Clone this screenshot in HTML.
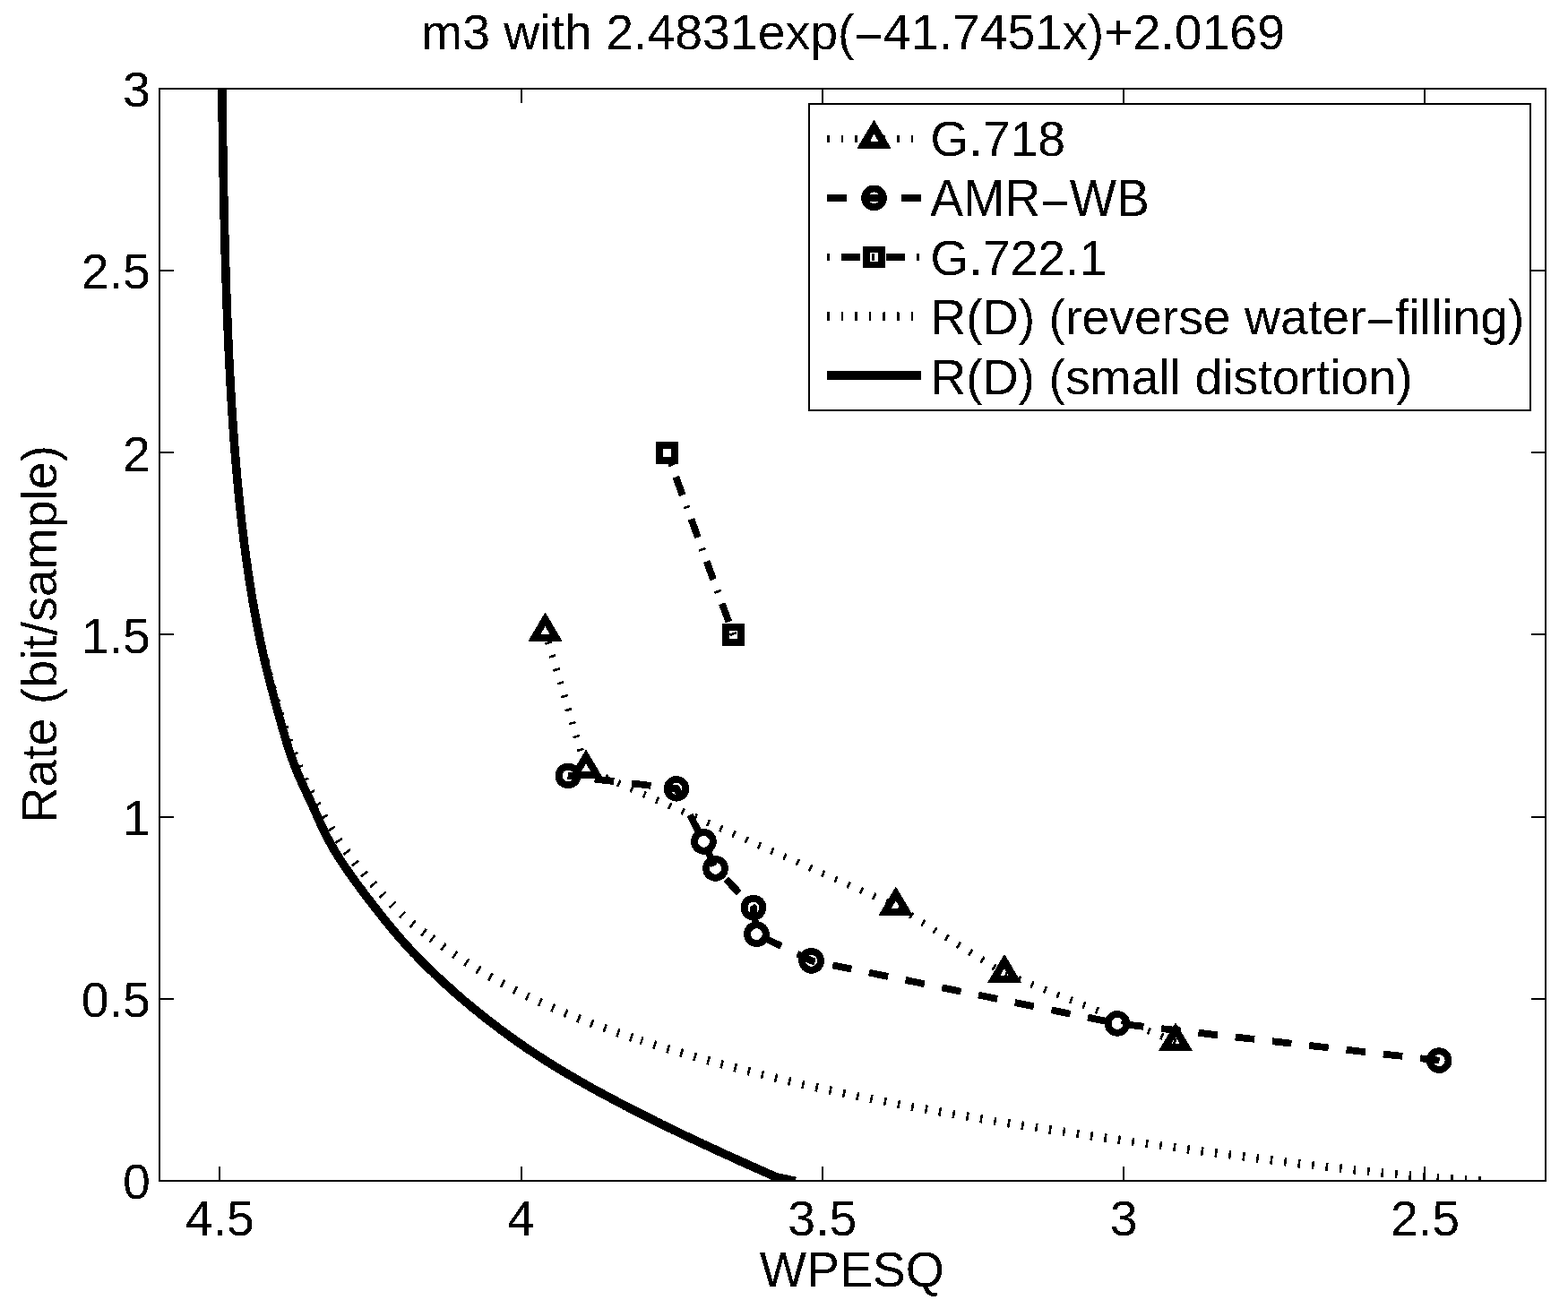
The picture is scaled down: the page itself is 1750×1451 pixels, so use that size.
<!DOCTYPE html>
<html lang="en"><head><meta charset="utf-8"><title>m3 with 2.4831exp(−41.7451x)+2.0169</title>
<style>html,body{margin:0;padding:0;background:#fff}body{width:1750px;height:1451px;overflow:hidden}svg{display:block}text{font-family:"Liberation Sans",sans-serif;font-size:55.4px;fill:#000}</style>
</head><body>
<svg width="1750" height="1451" viewBox="0 0 1750 1451">
<rect width="1750" height="1451" fill="#fff"/>
<defs><filter id="bin" filterUnits="userSpaceOnUse" x="0" y="0" width="1750" height="1451" color-interpolation-filters="sRGB"><feComponentTransfer><feFuncA type="discrete" tableValues="0 1 1 1 1 1 1 1 1 1 1 1 1 1 1 1 1 1 1 1"/></feComponentTransfer></filter></defs>
<defs><filter id="tb" filterUnits="userSpaceOnUse" x="0" y="0" width="1750" height="1451" color-interpolation-filters="sRGB"><feComponentTransfer><feFuncA type="discrete" tableValues="0 1"/></feComponentTransfer></filter></defs>
<defs><clipPath id="ax"><rect x="178" y="99" width="1547" height="1220"/></clipPath></defs>
<g clip-path="url(#ax)"><g filter="url(#bin)" fill="none" stroke="#000">
<path d="M1312 1162.67 L1121 1086.57 L999.8 1010.97 L654 858.07 L608.5 704.97" stroke-width="6.94" stroke-dasharray="1.731 13.847"/>
<path d="M1606.1 1183.6 L1247 1142.4 L905.6 1072.4 L844.4 1042.6 L840.9 1013.1 L798.5 969.4" stroke-width="6.94" stroke-dasharray="20.771 20.771"/>
<path d="M798.5 969.4 L785.4 939.4 L755 880.3 L634.05 865.9" stroke-width="6.94" stroke-dasharray="20.771 20.771" stroke-dashoffset="37.79"/>
<path d="M818.5 708.3 L744.5 505.5" stroke-width="6.94" stroke-dasharray="1.731 13.847 20.771 13.847"/>
<path d="M247.38 60 L247.41 62.52 L247.43 65.03 L247.46 67.55 L247.49 70.07 L247.51 72.58 L247.54 75.1 L247.57 77.61 L247.59 80.13 L247.62 82.65 L247.65 85.16 L247.68 87.68 L247.7 90.2 L247.73 92.71 L247.76 95.23 L247.79 97.74 L247.82 100.26 L247.85 102.78 L247.88 105.29 L247.91 107.81 L247.94 110.33 L247.97 112.84 L248.01 115.36 L248.04 117.88 L248.07 120.39 L248.11 122.91 L248.14 125.42 L248.17 127.94 L248.21 130.46 L248.24 132.97 L248.28 135.49 L248.32 138 L248.35 140.52 L248.39 143.04 L248.43 145.55 L248.46 148.07 L248.5 150.59 L248.54 153.1 L248.58 155.62 L248.62 158.13 L248.66 160.65 L248.7 163.17 L248.74 165.68 L248.78 168.2 L248.82 170.72 L248.86 173.23 L248.91 175.75 L248.95 178.26 L248.99 180.78 L249.04 183.3 L249.08 185.81 L249.13 188.33 L249.17 190.84 L249.22 193.36 L249.27 195.88 L249.32 198.39 L249.36 200.91 L249.41 203.42 L249.46 205.94 L249.51 208.46 L249.56 210.97 L249.61 213.49 L249.66 216 L249.72 218.52 L249.77 221.04 L249.82 223.55 L249.88 226.07 L249.93 228.58 L249.99 231.1 L250.04 233.62 L250.1 236.13 L250.16 238.65 L250.21 241.16 L250.27 243.68 L250.33 246.19 L250.39 248.71 L250.45 251.23 L250.51 253.74 L250.58 256.26 L250.64 258.77 L250.7 261.29 L250.77 263.8 L250.83 266.32 L250.9 268.84 L250.97 271.35 L251.03 273.87 L251.1 276.38 L251.17 278.9 L251.24 281.41 L251.31 283.93 L251.38 286.44 L251.46 288.96 L251.53 291.47 L251.6 293.99 L251.68 296.51 L251.76 299.02 L251.83 301.54 L251.91 304.05 L251.99 306.57 L252.07 309.08 L252.15 311.6 L252.23 314.11 L252.31 316.63 L252.4 319.14 L252.48 321.66 L252.57 324.17 L252.65 326.69 L252.74 329.2 L252.83 331.72 L252.92 334.23 L253.01 336.75 L253.1 339.26 L253.19 341.78 L253.29 344.29 L253.38 346.81 L253.48 349.32 L253.58 351.84 L253.68 354.35 L253.77 356.86 L253.88 359.38 L253.98 361.89 L254.08 364.41 L254.18 366.92 L254.29 369.44 L254.4 371.95 L254.51 374.46 L254.61 376.98 L254.73 379.49 L254.84 382.01 L254.95 384.52 L255.07 387.03 L255.18 389.55 L255.3 392.06 L255.42 394.58 L255.54 397.09 L255.66 399.6 L255.78 402.12 L255.91 404.63 L256.03 407.14 L256.16 409.66 L256.29 412.17 L256.42 414.68 L256.55 417.2 L256.68 419.71 L256.82 422.22 L256.95 424.73 L257.09 427.25 L257.23 429.76 L257.37 432.27 L257.52 434.78 L257.66 437.3 L257.81 439.81 L257.96 442.32 L258.11 444.83 L258.26 447.35 L258.41 449.86 L258.57 452.37 L258.72 454.88 L258.88 457.39 L259.04 459.9 L259.21 462.41 L259.37 464.93 L259.54 467.44 L259.71 469.95 L259.88 472.46 L260.05 474.97 L260.22 477.48 L260.4 479.99 L260.58 482.5 L260.76 485.01 L260.94 487.52 L261.13 490.03 L261.31 492.54 L261.5 495.05 L261.69 497.56 L261.89 500.07 L262.08 502.58 L262.28 505.08 L262.48 507.59 L262.68 510.1 L262.89 512.61 L263.1 515.12 L263.31 517.62 L263.52 520.13 L263.73 522.64 L263.95 525.15 L264.17 527.65 L264.39 530.16 L264.62 532.67 L264.85 535.17 L265.08 537.68 L265.31 540.18 L265.54 542.69 L265.78 545.19 L266.02 547.7 L266.27 550.2 L266.51 552.71 L266.76 555.21 L267.01 557.72 L267.27 560.22 L267.53 562.72 L267.79 565.23 L268.05 567.73 L268.32 570.23 L268.59 572.73 L268.86 575.24 L269.14 577.74 L269.42 580.24 L269.7 582.74 L269.98 585.24 L270.27 587.74 L270.57 590.24 L270.86 592.74 L271.17 595.24 L271.47 597.73 L271.78 600.23 L272.09 602.73 L272.4 605.23 L272.72 607.72 L273.05 610.22 L273.37 612.71 L273.7 615.21 L274.04 617.7 L274.38 620.2 L274.72 622.69 L275.07 625.18 L275.42 627.67 L275.77 630.16 L276.13 632.65 L276.5 635.14 L276.87 637.63 L277.24 640.12 L277.62 642.61 L278 645.1 L278.39 647.59 L278.78 650.07 L279.17 652.56 L279.57 655.04 L279.98 657.53 L280.39 660.01 L280.81 662.49 L281.23 664.97 L281.65 667.45 L282.08 669.93 L282.52 672.41 L282.96 674.89 L283.41 677.37 L283.86 679.84 L284.31 682.32 L284.78 684.79 L285.25 687.26 L285.72 689.73 L286.2 692.2 L286.68 694.67 L287.18 697.14 L287.67 699.61 L288.18 702.07 L288.69 704.54 L289.2 707 L289.72 709.46 L290.25 711.93 L290.78 714.38 L291.32 716.84 L291.86 719.3 L292.41 721.76 L292.96 724.21 L293.52 726.67 L294.09 729.12 L294.66 731.57 L295.23 734.02 L295.81 736.47 L296.39 738.92 L296.98 741.36 L297.58 743.81 L298.18 746.25 L298.78 748.7 L299.39 751.14 L300.01 753.58 L300.64 756.01 L301.27 758.45 L301.91 760.88 L302.56 763.32 L303.21 765.75 L303.88 768.17 L304.55 770.6 L305.24 773.02 L305.93 775.44 L306.63 777.85 L307.34 780.27 L308.05 782.68 L308.77 785.09 L309.5 787.5 L310.24 789.91 L310.97 792.32 L311.72 794.72 L312.46 797.12 L313.22 799.52 L313.98 801.92 L314.74 804.32 L315.52 806.71 L316.3 809.11 L317.09 811.5 L317.89 813.88 L318.69 816.27 L319.51 818.65 L320.33 821.03 L321.17 823.4 L322.01 825.77 L322.86 828.14 L323.72 830.51 L324.59 832.87 L325.46 835.23 L326.35 837.58 L327.25 839.93 L328.16 842.28 L329.08 844.62 L330.01 846.96 L330.94 849.3 L331.89 851.63 L332.85 853.95 L333.82 856.27 L334.81 858.59 L335.8 860.9 L336.8 863.21 L337.82 865.51 L338.85 867.81 L339.88 870.1 L340.93 872.39 L342 874.67 L343.07 876.95 L344.15 879.22 L345.25 881.49 L346.36 883.75 L347.48 886 L348.61 888.25 L349.76 890.49 L350.91 892.72 L352.08 894.95 L353.26 897.17 L354.45 899.39 L355.66 901.6 L356.88 903.8 L358.11 906 L359.35 908.19 L360.6 910.37 L361.87 912.55 L363.15 914.71 L364.44 916.87 L365.74 919.03 L367.05 921.17 L368.38 923.31 L369.72 925.44 L371.07 927.57 L372.43 929.68 L373.81 931.79 L375.19 933.89 L376.59 935.99 L378 938.07 L379.42 940.15 L380.85 942.22 L382.3 944.28 L383.75 946.33 L385.22 948.38 L386.7 950.41 L388.19 952.44 L389.69 954.46 L391.21 956.47 L392.73 958.47 L394.27 960.46 L395.81 962.45 L397.37 964.43 L398.93 966.4 L400.51 968.36 L402.09 970.32 L403.69 972.27 L405.29 974.21 L406.91 976.14 L408.53 978.06 L410.17 979.98 L411.81 981.88 L413.47 983.77 L415.14 985.65 L416.83 987.52 L418.52 989.38 L420.23 991.23 L421.95 993.06 L423.68 994.89 L425.42 996.7 L427.17 998.52 L428.92 1000.32 L430.68 1002.12 L432.43 1003.93 L434.19 1005.73 L435.94 1007.54 L437.69 1009.35 L439.44 1011.17 L441.18 1012.99 L442.92 1014.8 L444.67 1016.61 L446.43 1018.41 L448.21 1020.19 L450.02 1021.93 L451.85 1023.65 L453.71 1025.34 L455.6 1027.01 L457.5 1028.64 L459.43 1030.26 L461.38 1031.85 L463.35 1033.42 L465.33 1034.98 L467.33 1036.52 L469.33 1038.04 L471.35 1039.56 L473.37 1041.06 L475.4 1042.56 L477.44 1044.05 L479.47 1045.54 L481.51 1047.02 L481.89 1047.3" stroke-width="8.68" stroke-dasharray="1.731 13.847" stroke-dashoffset="5.7"/>
<path d="M481.9 1047.31 L483.55 1048.51 L485.59 1049.99 L487.62 1051.47 L489.66 1052.95 L491.71 1054.42 L493.75 1055.88 L495.8 1057.34 L497.85 1058.8 L499.91 1060.25 L501.97 1061.69 L504.03 1063.12 L506.1 1064.55 L508.18 1065.97 L510.27 1067.37 L512.36 1068.77 L514.46 1070.16 L516.56 1071.54 L518.67 1072.9 L520.79 1074.26 L522.92 1075.61 L525.05 1076.95 L527.19 1078.28 L529.33 1079.6 L531.48 1080.91 L533.63 1082.22 L535.79 1083.51 L537.95 1084.8 L540.12 1086.08 L542.29 1087.35 L544.47 1088.62 L546.65 1089.87 L548.84 1091.12 L551.03 1092.36 L553.22 1093.59 L555.42 1094.81 L557.63 1096.03 L559.84 1097.23 L562.05 1098.43 L564.27 1099.62 L566.49 1100.8 L568.72 1101.97 L570.95 1103.14 L573.18 1104.29 L575.42 1105.44 L577.67 1106.58 L579.91 1107.71 L582.17 1108.83 L584.42 1109.95 L586.68 1111.05 L588.95 1112.15 L591.22 1113.24 L593.49 1114.32 L595.77 1115.4 L598.04 1116.46 L600.33 1117.52 L602.61 1118.57 L604.91 1119.62 L607.2 1120.65 L609.5 1121.68 L611.8 1122.7 L614.1 1123.71 L616.41 1124.72 L618.72 1125.72 L621.03 1126.71 L623.35 1127.69 L625.67 1128.67 L627.99 1129.64 L630.32 1130.6 L632.64 1131.56 L634.97 1132.5 L637.31 1133.45 L639.64 1134.38 L641.98 1135.31 L644.33 1136.23 L646.67 1137.15 L649.02 1138.05 L651.37 1138.96 L653.72 1139.85 L656.07 1140.74 L658.43 1141.63 L660.79 1142.51 L663.15 1143.38 L665.51 1144.25 L667.87 1145.11 L670.24 1145.96 L672.61 1146.81 L674.98 1147.66 L677.35 1148.5 L679.73 1149.33 L682.1 1150.16 L684.48 1150.99 L686.86 1151.81 L689.24 1152.62 L691.62 1153.43 L694 1154.24 L696.39 1155.04 L698.78 1155.84 L701.16 1156.63 L703.55 1157.42 L705.95 1158.21 L708.34 1158.99 L710.73 1159.77 L713.12 1160.54 L715.52 1161.31 L715.63 1161.35" stroke-width="8.68" stroke-dasharray="1.731 13.847" stroke-dashoffset="0.31"/>
<path d="M715.64 1161.35 L717.92 1162.08 L720.31 1162.85 L722.71 1163.61 L725.11 1164.37 L727.51 1165.12 L729.91 1165.87 L732.32 1166.62 L734.72 1167.37 L737.12 1168.11 L739.53 1168.85 L741.94 1169.59 L744.34 1170.32 L746.75 1171.05 L749.16 1171.78 L751.57 1172.5 L753.98 1173.22 L756.39 1173.94 L758.81 1174.65 L761.22 1175.36 L763.64 1176.07 L766.05 1176.78 L768.47 1177.48 L770.89 1178.18 L773.3 1178.87 L775.72 1179.57 L778.14 1180.26 L780.56 1180.95 L782.99 1181.63 L785.41 1182.31 L787.83 1182.99 L790.26 1183.66 L792.68 1184.34 L795.11 1185.01 L797.53 1185.67 L799.96 1186.34 L802.39 1187 L804.82 1187.66 L807.25 1188.31 L809.68 1188.96 L812.11 1189.61 L814.54 1190.26 L816.97 1190.9 L819.41 1191.54 L821.84 1192.18 L824.28 1192.82 L826.71 1193.45 L829.15 1194.08 L831.59 1194.71 L834.02 1195.33 L836.46 1195.95 L838.9 1196.57 L841.34 1197.19 L843.78 1197.8 L846.22 1198.42 L848.66 1199.02 L851.11 1199.63 L853.55 1200.23 L855.99 1200.83 L858.44 1201.43 L860.88 1202.03 L863.33 1202.62 L865.77 1203.21 L868.22 1203.8 L870.67 1204.38 L873.12 1204.96 L875.57 1205.54 L878.02 1206.12 L880.47 1206.7 L882.92 1207.27 L885.37 1207.84 L887.82 1208.41 L890.27 1208.97 L892.72 1209.54 L895.18 1210.1 L897.63 1210.65 L900.08 1211.21 L902.54 1211.76 L905 1212.31 L907.45 1212.86 L909.91 1213.41 L912.36 1213.95 L914.82 1214.49 L917.28 1215.03 L919.74 1215.57 L922.2 1216.11 L924.66 1216.64 L927.12 1217.17 L929.58 1217.7 L932.04 1218.22 L934.5 1218.75 L936.96 1219.27 L939.42 1219.79 L941.89 1220.31 L944.35 1220.82 L946.81 1221.34 L949.28 1221.85 L951.74 1222.36 L954.21 1222.86 L956.67 1223.37 L959.14 1223.87 L961.6 1224.37 L964.07 1224.87 L966.54 1225.37 L969 1225.86 L971.47 1226.36 L973.94 1226.85 L976.41 1227.34 L978.88 1227.82 L981.35 1228.31 L983.82 1228.79 L986.29 1229.28 L988.76 1229.76 L991.23 1230.23 L993.7 1230.71 L996.17 1231.18 L998.64 1231.66 L1001.11 1232.13 L1003.58 1232.6 L1006.06 1233.06 L1008.53 1233.53 L1011 1233.99 L1013.48 1234.46 L1015.95 1234.92 L1018.43 1235.38 L1020.9 1235.83 L1023.38 1236.29 L1025.85 1236.74 L1028.33 1237.2 L1030.8 1237.65 L1033.28 1238.1 L1035.75 1238.54 L1038.23 1238.99 L1040.71 1239.43 L1043.18 1239.88 L1045.66 1240.32 L1048.14 1240.76 L1050.62 1241.2 L1053.1 1241.63 L1055.57 1242.07 L1058.05 1242.5 L1060.53 1242.94 L1063.01 1243.37 L1065.49 1243.8 L1067.97 1244.22 L1070.45 1244.65 L1072.93 1245.08 L1075.41 1245.5 L1077.89 1245.92 L1080.37 1246.34 L1082.86 1246.76 L1085.34 1247.18 L1087.82 1247.6 L1090.3 1248.01 L1092.78 1248.43 L1095.26 1248.84 L1097.75 1249.25 L1100.23 1249.66 L1102.71 1250.07 L1105.2 1250.48 L1107.68 1250.88 L1110.16 1251.29 L1112.65 1251.69 L1115.13 1252.09 L1117.62 1252.5 L1120.1 1252.9 L1122.59 1253.29 L1125.07 1253.69 L1127.56 1254.09 L1130.04 1254.48 L1132.53 1254.88 L1135.01 1255.27 L1137.5 1255.66 L1139.98 1256.05 L1142.47 1256.44 L1144.96 1256.83 L1147.44 1257.22 L1149.93 1257.6 L1152.42 1257.99 L1154.9 1258.37 L1157.39 1258.75 L1159.88 1259.14 L1162.37 1259.52 L1164.85 1259.9 L1167.34 1260.27 L1169.83 1260.65 L1172.32 1261.03 L1174.81 1261.4 L1177.29 1261.78 L1179.78 1262.15 L1182.27 1262.52 L1184.76 1262.89 L1187.25 1263.26 L1189.74 1263.63 L1192.23 1264 L1194.72 1264.37 L1197.21 1264.74 L1199.7 1265.1 L1202.19 1265.47 L1204.68 1265.83 L1207.17 1266.2 L1209.66 1266.56 L1212.15 1266.92 L1214.64 1267.28 L1217.13 1267.64 L1219.62 1268 L1222.11 1268.36 L1224.6 1268.72 L1227.09 1269.07 L1229.58 1269.43 L1232.07 1269.78 L1234.57 1270.14 L1237.06 1270.49 L1239.55 1270.85 L1242.04 1271.2 L1244.53 1271.55 L1247.02 1271.9 L1249.52 1272.25 L1252.01 1272.6 L1254.5 1272.95 L1256.99 1273.3 L1259.48 1273.64 L1261.98 1273.99 L1264.47 1274.34 L1266.96 1274.68 L1269.45 1275.03 L1271.95 1275.37 L1274.44 1275.72 L1276.93 1276.06 L1279.43 1276.4 L1281.92 1276.75 L1284.41 1277.09 L1286.91 1277.43 L1289.4 1277.77 L1291.89 1278.11 L1294.39 1278.45 L1296.88 1278.79 L1299.37 1279.13 L1301.87 1279.47 L1304.36 1279.8 L1306.85 1280.14 L1309.35 1280.48 L1311.84 1280.82 L1314.34 1281.15 L1316.83 1281.49 L1319.32 1281.82 L1321.82 1282.16 L1324.31 1282.49 L1326.81 1282.83 L1329.3 1283.16 L1331.79 1283.5 L1334.29 1283.83 L1336.78 1284.16 L1339.28 1284.5 L1341.77 1284.83 L1344.27 1285.16 L1346.76 1285.49 L1349.25 1285.82 L1351.75 1286.16 L1354.24 1286.49 L1356.74 1286.82 L1359.23 1287.15 L1361.73 1287.48 L1364.22 1287.81 L1366.72 1288.14 L1369.21 1288.46 L1371.71 1288.79 L1374.2 1289.12 L1376.7 1289.45 L1379.19 1289.77 L1381.69 1290.1 L1384.18 1290.43 L1386.68 1290.75 L1389.17 1291.07 L1391.67 1291.4 L1394.17 1291.72 L1396.66 1292.04 L1399.16 1292.37 L1401.65 1292.69 L1404.15 1293.01 L1406.65 1293.33 L1409.14 1293.64 L1411.64 1293.96 L1414.13 1294.28 L1416.63 1294.59 L1419.13 1294.91 L1421.62 1295.22 L1424.12 1295.54 L1426.62 1295.85 L1429.12 1296.16 L1431.61 1296.47 L1434.11 1296.78 L1436.61 1297.09 L1439.1 1297.4 L1441.6 1297.71 L1444.1 1298.01 L1446.6 1298.32 L1449.1 1298.62 L1451.59 1298.92 L1454.09 1299.22 L1456.59 1299.52 L1459.09 1299.82 L1461.59 1300.12 L1464.09 1300.42 L1466.59 1300.71 L1469.09 1301.01 L1471.59 1301.3 L1474.09 1301.59 L1476.59 1301.88 L1479.08 1302.17 L1481.58 1302.46 L1484.09 1302.74 L1486.59 1303.03 L1489.09 1303.31 L1491.59 1303.59 L1494.09 1303.87 L1496.59 1304.15 L1499.09 1304.43 L1501.59 1304.7 L1504.09 1304.98 L1506.59 1305.25 L1509.1 1305.52 L1511.6 1305.79 L1514.1 1306.06 L1516.6 1306.33 L1519.1 1306.59 L1521.61 1306.86 L1524.11 1307.12 L1526.61 1307.38 L1529.12 1307.64 L1531.62 1307.89 L1534.12 1308.15 L1536.63 1308.4 L1539.13 1308.65 L1541.64 1308.9 L1544.14 1309.15 L1546.64 1309.39 L1549.15 1309.64 L1551.65 1309.88 L1554.16 1310.12 L1556.66 1310.35 L1559.17 1310.59 L1561.67 1310.82 L1564.18 1311.05 L1566.69 1311.28 L1569.19 1311.51 L1571.7 1311.74 L1574.21 1311.96 L1576.71 1312.18 L1579.22 1312.4 L1581.73 1312.62 L1584.23 1312.83 L1586.74 1313.04 L1589.25 1313.26 L1591.76 1313.46 L1594.26 1313.67 L1596.77 1313.88 L1599.28 1314.08 L1601.79 1314.28 L1604.3 1314.47 L1606.81 1314.67 L1609.32 1314.86 L1611.83 1315.05 L1614.34 1315.24 L1616.85 1315.42 L1619.36 1315.6 L1621.87 1315.78 L1624.38 1315.95 L1626.89 1316.12 L1629.4 1316.29 L1631.91 1316.46 L1634.42 1316.62 L1636.93 1316.78 L1639.44 1316.94 L1641.95 1317.1 L1644.47 1317.26 L1646.98 1317.42 L1649.49 1317.57 L1652 1317.73" stroke-width="8.68" stroke-dasharray="1.73 13.847" stroke-dashoffset="0.49"/>
<path d="M247.38 60 L247.41 63.07 L247.44 66.13 L247.48 69.2 L247.51 72.26 L247.54 75.33 L247.57 78.4 L247.61 81.46 L247.64 84.53 L247.68 87.6 L247.71 90.66 L247.74 93.73 L247.78 96.79 L247.82 99.86 L247.85 102.93 L247.89 105.99 L247.93 109.06 L247.97 112.12 L248 115.19 L248.04 118.26 L248.08 121.32 L248.13 124.39 L248.17 127.45 L248.21 130.52 L248.25 133.59 L248.3 136.65 L248.34 139.72 L248.38 142.78 L248.43 145.85 L248.48 148.92 L248.52 151.98 L248.57 155.05 L248.62 158.11 L248.67 161.18 L248.72 164.25 L248.77 167.31 L248.82 170.38 L248.87 173.44 L248.92 176.51 L248.97 179.58 L249.03 182.64 L249.08 185.71 L249.14 188.77 L249.19 191.84 L249.25 194.9 L249.31 197.97 L249.37 201.04 L249.42 204.1 L249.49 207.17 L249.55 210.23 L249.61 213.3 L249.67 216.36 L249.73 219.43 L249.8 222.5 L249.87 225.56 L249.93 228.63 L250 231.69 L250.07 234.76 L250.14 237.82 L250.21 240.89 L250.28 243.95 L250.35 247.02 L250.43 250.09 L250.5 253.15 L250.58 256.22 L250.65 259.28 L250.73 262.35 L250.81 265.41 L250.89 268.48 L250.97 271.54 L251.05 274.61 L251.14 277.67 L251.22 280.74 L251.31 283.8 L251.4 286.87 L251.49 289.93 L251.58 293 L251.67 296.06 L251.76 299.13 L251.85 302.19 L251.95 305.26 L252.04 308.32 L252.14 311.39 L252.24 314.45 L252.34 317.52 L252.45 320.58 L252.55 323.65 L252.65 326.71 L252.76 329.77 L252.87 332.84 L252.98 335.9 L253.09 338.97 L253.2 342.03 L253.32 345.1 L253.43 348.16 L253.55 351.22 L253.67 354.29 L253.79 357.35 L253.92 360.42 L254.04 363.48 L254.17 366.54 L254.3 369.61 L254.43 372.67 L254.56 375.73 L254.69 378.8 L254.83 381.86 L254.97 384.92 L255.11 387.99 L255.25 391.05 L255.4 394.11 L255.54 397.18 L255.69 400.24 L255.84 403.3 L255.99 406.36 L256.15 409.43 L256.3 412.49 L256.46 415.55 L256.62 418.61 L256.79 421.67 L256.95 424.74 L257.12 427.8 L257.29 430.86 L257.47 433.92 L257.64 436.98 L257.82 440.04 L258 443.1 L258.19 446.17 L258.37 449.23 L258.56 452.29 L258.75 455.35 L258.95 458.41 L259.14 461.47 L259.34 464.53 L259.55 467.59 L259.75 470.65 L259.96 473.71 L260.17 476.76 L260.39 479.82 L260.6 482.88 L260.83 485.94 L261.05 489 L261.28 492.06 L261.51 495.11 L261.74 498.17 L261.98 501.23 L262.22 504.29 L262.46 507.34 L262.71 510.4 L262.96 513.45 L263.21 516.51 L263.47 519.57 L263.73 522.62 L264 525.68 L264.26 528.73 L264.54 531.79 L264.81 534.84 L265.09 537.89 L265.38 540.95 L265.67 544 L265.96 547.05 L266.26 550.1 L266.56 553.15 L266.86 556.21 L267.17 559.26 L267.48 562.31 L267.8 565.36 L268.12 568.41 L268.45 571.45 L268.78 574.5 L269.12 577.55 L269.46 580.6 L269.81 583.65 L270.16 586.69 L270.51 589.74 L270.87 592.78 L271.24 595.83 L271.61 598.87 L271.98 601.91 L272.37 604.96 L272.75 608 L273.14 611.04 L273.54 614.08 L273.94 617.12 L274.35 620.16 L274.76 623.2 L275.18 626.24 L275.61 629.27 L276.04 632.31 L276.48 635.34 L276.92 638.38 L277.37 641.41 L277.83 644.44 L278.29 647.48 L278.76 650.51 L279.23 653.53 L279.71 656.56 L280.2 659.59 L280.7 662.62 L281.2 665.64 L281.7 668.67 L282.22 671.69 L282.74 674.71 L283.27 677.73 L283.81 680.75 L284.35 683.77 L284.9 686.78 L285.46 689.8 L286.02 692.81 L286.59 695.83 L287.17 698.84 L287.76 701.85 L288.35 704.86 L288.95 707.87 L289.56 710.87 L290.18 713.88 L290.81 716.88 L291.44 719.88 L292.09 722.88 L292.74 725.87 L293.4 728.87 L294.08 731.86 L294.76 734.85 L295.45 737.83 L296.15 740.82 L296.87 743.8 L297.59 746.78 L298.32 749.75 L299.06 752.73 L299.81 755.7 L300.57 758.67 L301.33 761.63 L302.1 764.6 L302.88 767.57 L303.67 770.53 L304.45 773.49 L305.25 776.45 L306.05 779.42 L306.85 782.38 L307.66 785.34 L308.47 788.3 L309.28 791.26 L310.09 794.22 L310.91 797.18 L311.73 800.14 L312.55 803.1 L313.37 806.06 L314.2 809.02 L315.04 811.98 L315.88 814.93 L316.73 817.88 L317.59 820.83 L318.47 823.77 L319.36 826.71 L320.26 829.65 L321.18 832.57 L322.12 835.5 L323.07 838.41 L324.05 841.32 L325.05 844.21 L326.07 847.1 L327.12 849.98 L328.19 852.85 L329.29 855.71 L330.41 858.55 L331.57 861.39 L332.76 864.21 L333.97 867.02 L335.2 869.83 L336.46 872.62 L337.73 875.41 L339.01 878.2 L340.31 880.98 L341.6 883.76 L342.91 886.54 L344.21 889.32 L345.51 892.1 L346.8 894.88 L348.08 897.67 L349.35 900.47 L350.61 903.27 L351.86 906.07 L353.11 908.88 L354.36 911.68 L355.62 914.48 L356.88 917.28 L358.16 920.07 L359.45 922.85 L360.75 925.62 L362.08 928.38 L363.43 931.13 L364.81 933.86 L366.22 936.57 L367.67 939.27 L369.14 941.95 L370.65 944.62 L372.18 947.27 L373.74 949.9 L375.33 952.52 L376.94 955.13 L378.57 957.72 L380.23 960.3 L381.91 962.87 L383.61 965.43 L385.33 967.97 L387.06 970.51 L388.81 973.03 L390.58 975.55 L392.36 978.06 L394.16 980.56 L395.96 983.05 L397.78 985.53 L399.6 988.01 L401.44 990.48 L403.28 992.95 L405.13 995.41 L406.98 997.87 L408.83 1000.32 L410.69 1002.77 L412.55 1005.21 L414.42 1007.65 L416.29 1010.09 L418.17 1012.52 L420.05 1014.94 L421.94 1017.36 L423.84 1019.77 L425.75 1022.17 L427.66 1024.57 L429.58 1026.96 L431.51 1029.34 L433.45 1031.71 L435.4 1034.08 L437.36 1036.43 L439.33 1038.78 L441.31 1041.12 L443.3 1043.44 L445.3 1045.76 L447.32 1048.07 L449.34 1050.36 L451.38 1052.65 L453.44 1054.92 L455.51 1057.18 L457.59 1059.43 L459.68 1061.67 L461.78 1063.9 L463.9 1066.12 L466.03 1068.33 L468.17 1070.52 L470.32 1072.71 L472.48 1074.89 L474.65 1077.06 L476.83 1079.21 L479.02 1081.36 L481.23 1083.5 L483.44 1085.62 L485.66 1087.74 L487.89 1089.85 L490.13 1091.95 L492.38 1094.04 L494.64 1096.12 L496.91 1098.2 L499.18 1100.26 L501.46 1102.31 L503.75 1104.36 L506.05 1106.4 L508.35 1108.43 L510.67 1110.45 L512.99 1112.46 L515.31 1114.46 L517.65 1116.46 L519.99 1118.44 L522.34 1120.42 L524.7 1122.39 L527.06 1124.34 L529.43 1126.29 L531.81 1128.23 L534.2 1130.17 L536.59 1132.09 L538.99 1134 L541.4 1135.91 L543.82 1137.8 L546.24 1139.69 L548.67 1141.56 L551.1 1143.43 L553.55 1145.29 L556 1147.14 L558.45 1148.98 L560.92 1150.81 L563.39 1152.63 L565.86 1154.44 L568.35 1156.24 L570.84 1158.04 L573.34 1159.82 L575.84 1161.59 L578.35 1163.36 L580.87 1165.11 L583.39 1166.86 L585.92 1168.59 L588.46 1170.32 L591 1172.04 L593.55 1173.74 L596.1 1175.44 L598.66 1177.13 L601.23 1178.8 L603.81 1180.47 L606.39 1182.13 L608.97 1183.78 L611.56 1185.42 L614.16 1187.05 L616.77 1188.67 L619.37 1190.28 L621.99 1191.88 L624.61 1193.48 L627.23 1195.06 L629.86 1196.64 L632.5 1198.21 L635.14 1199.77 L637.78 1201.33 L640.43 1202.87 L643.08 1204.41 L645.74 1205.94 L648.4 1207.47 L651.07 1208.99 L653.74 1210.5 L656.42 1212 L659.09 1213.49 L661.78 1214.98 L664.46 1216.47 L667.15 1217.94 L669.85 1219.41 L672.54 1220.88 L675.24 1222.34 L677.94 1223.79 L680.65 1225.24 L683.36 1226.68 L686.07 1228.12 L688.78 1229.55 L691.5 1230.98 L694.22 1232.4 L696.94 1233.81 L699.66 1235.23 L702.39 1236.63 L705.12 1238.04 L707.85 1239.44 L710.58 1240.83 L713.31 1242.22 L716.05 1243.61 L718.79 1244.99 L721.53 1246.37 L724.27 1247.74 L727.01 1249.11 L729.76 1250.48 L732.51 1251.84 L735.26 1253.2 L738.01 1254.56 L740.76 1255.91 L743.51 1257.25 L746.27 1258.6 L749.03 1259.94 L751.79 1261.27 L754.55 1262.61 L757.31 1263.94 L760.08 1265.26 L762.84 1266.59 L765.61 1267.91 L768.38 1269.22 L771.15 1270.54 L773.92 1271.85 L776.7 1273.15 L779.47 1274.46 L782.25 1275.76 L785.02 1277.06 L787.8 1278.35 L790.58 1279.65 L793.37 1280.94 L796.15 1282.22 L798.93 1283.51 L801.72 1284.79 L804.5 1286.07 L807.29 1287.35 L810.08 1288.62 L812.87 1289.89 L815.66 1291.16 L818.45 1292.43 L821.24 1293.7 L824.04 1294.96 L826.83 1296.23 L829.63 1297.49 L832.42 1298.75 L835.22 1300.01 L838.01 1301.27 L840.81 1302.52 L843.61 1303.78 L846.41 1305.03 L849.21 1306.29 L852 1307.54 L854.8 1308.79 L857.6 1310.04 L860.4 1311.3 L863.2 1312.55 L866 1313.8 L887.4 1318.3" stroke-width="8.68" stroke-linejoin="round"/>
<path d="M1312 1149.06 L1324.12 1169.47 L1299.88 1169.47 Z" stroke-width="7.26" stroke-miterlimit="10"/>
<path d="M1121 1072.96 L1133.12 1093.37 L1108.88 1093.37 Z" stroke-width="7.26" stroke-miterlimit="10"/>
<path d="M999.8 997.36 L1011.92 1017.77 L987.67 1017.77 Z" stroke-width="7.26" stroke-miterlimit="10"/>
<path d="M654 844.46 L666.12 864.87 L641.88 864.87 Z" stroke-width="7.26" stroke-miterlimit="10"/>
<path d="M608.5 691.36 L620.62 711.77 L596.38 711.77 Z" stroke-width="7.26" stroke-miterlimit="10"/>
<circle cx="1606.1" cy="1183.6" r="10.4" stroke-width="6.94"/>
<circle cx="1247" cy="1142.4" r="10.4" stroke-width="6.94"/>
<circle cx="905.6" cy="1072.4" r="10.4" stroke-width="6.94"/>
<circle cx="844.4" cy="1042.6" r="10.4" stroke-width="6.94"/>
<circle cx="840.9" cy="1013.1" r="10.4" stroke-width="6.94"/>
<circle cx="798.5" cy="969.4" r="10.4" stroke-width="6.94"/>
<circle cx="785.4" cy="939.4" r="10.4" stroke-width="6.94"/>
<circle cx="755" cy="880.3" r="10.4" stroke-width="6.94"/>
<circle cx="634.05" cy="865.9" r="10.4" stroke-width="6.94"/>
<rect x="810" y="699.8" width="17" height="17" stroke-width="6.94"/>
<rect x="736" y="497" width="17" height="17" stroke-width="6.94"/>
</g></g>
<g stroke="#000" stroke-width="2" fill="none" shape-rendering="crispEdges">
<rect x="178" y="99" width="1547" height="1219"/>
<line x1="245" y1="1318" x2="245" y2="1302"/>
<line x1="245" y1="99" x2="245" y2="115"/>
<line x1="582" y1="1318" x2="582" y2="1302"/>
<line x1="582" y1="99" x2="582" y2="115"/>
<line x1="918" y1="1318" x2="918" y2="1302"/>
<line x1="918" y1="99" x2="918" y2="115"/>
<line x1="1254" y1="1318" x2="1254" y2="1302"/>
<line x1="1254" y1="99" x2="1254" y2="115"/>
<line x1="1590" y1="1318" x2="1590" y2="1302"/>
<line x1="1590" y1="99" x2="1590" y2="115"/>
<line x1="178" y1="1115" x2="194" y2="1115"/>
<line x1="1725" y1="1115" x2="1709" y2="1115"/>
<line x1="178" y1="912" x2="194" y2="912"/>
<line x1="1725" y1="912" x2="1709" y2="912"/>
<line x1="178" y1="708" x2="194" y2="708"/>
<line x1="1725" y1="708" x2="1709" y2="708"/>
<line x1="178" y1="505" x2="194" y2="505"/>
<line x1="1725" y1="505" x2="1709" y2="505"/>
<line x1="178" y1="302" x2="194" y2="302"/>
<line x1="1725" y1="302" x2="1709" y2="302"/>
</g>
<g filter="url(#tb)">
<text transform="translate(952 55.3) scale(1 0.987)" text-anchor="middle" dy="0 0 0 0 0 0 0 0 0 0 0 0 0 0 0 0 0 0 3.36 -3.36">m3 with 2.4831exp(−41.7451x)+2.0169</text>
<text transform="translate(245.26 1379.3) scale(1 0.987)" text-anchor="middle">4.5</text>
<text transform="translate(581.57 1379.3) scale(1 0.987)" text-anchor="middle">4</text>
<text transform="translate(917.87 1379.3) scale(1 0.987)" text-anchor="middle">3.5</text>
<text transform="translate(1254.17 1379.3) scale(1 0.987)" text-anchor="middle">3</text>
<text transform="translate(1590.48 1379.3) scale(1 0.987)" text-anchor="middle">2.5</text>
<text transform="translate(167.7 1338.3) scale(1 0.987)" text-anchor="end">0</text>
<text transform="translate(167.7 1135.13) scale(1 0.987)" text-anchor="end">0.5</text>
<text transform="translate(167.7 931.97) scale(1 0.987)" text-anchor="end">1</text>
<text transform="translate(167.7 728.8) scale(1 0.987)" text-anchor="end">1.5</text>
<text transform="translate(167.7 525.63) scale(1 0.987)" text-anchor="end">2</text>
<text transform="translate(167.7 322.47) scale(1 0.987)" text-anchor="end">2.5</text>
<text transform="translate(167.7 119.3) scale(1 0.987)" text-anchor="end">3</text>
<text transform="translate(950.8 1436.1) scale(1 1.01)" text-anchor="middle">WPESQ</text>
<text transform="translate(63 707.6) rotate(-90) scale(1 1.005)" text-anchor="middle">Rate (bit/sample)</text>
</g>
<rect x="903" y="116" width="805" height="342" fill="#fff" stroke="#000" stroke-width="2" shape-rendering="crispEdges"/>
<g fill="none" stroke="#000" filter="url(#bin)">
<path d="M923.5 155 H1027.7" stroke-width="6.94" stroke-dasharray="1.731 13.847"/>
<path d="M975.5 141.49 L987.62 161.9 L963.38 161.9 Z" stroke-width="7.26" stroke-miterlimit="10"/>
<path d="M923.5 220.9 H1027.7" stroke-width="6.94" stroke-dasharray="20.771 20.771"/>
<circle cx="975.5" cy="220.9" r="10.4" stroke-width="6.94"/>
<path d="M923.5 287 H1027.7" stroke-width="6.94" stroke-dasharray="1.731 13.847 20.771 13.847"/>
<rect x="967" y="278.5" width="17" height="17" stroke-width="6.94"/>
<path d="M923.5 353.2 H1027.7" stroke-width="8.68" stroke-dasharray="1.731 13.847"/>
<path d="M923.5 419.2 H1027.7" stroke-width="8.68"/>
</g>
<g filter="url(#tb)">
<text transform="translate(1038.2 174.3) scale(1 0.99)">G.718</text>
<text transform="translate(1038.2 241) scale(1 1.02)" dy="0 0 0 4.74 -4.74">AMR−WB</text>
<text transform="translate(1038.2 307.1) scale(1 0.99)">G.722.1</text>
<text transform="translate(1038.2 373) scale(1 1.005)" dy="0 0 0 0 0 0 0 0 0 0 0 0 0 0 0 0 0 0 0 4.53 -4.53">R(D) (reverse water−filling)</text>
<text transform="translate(1038.2 439.9) scale(1 1.005)">R(D) (small distortion)</text>
</g>
</svg></body></html>
